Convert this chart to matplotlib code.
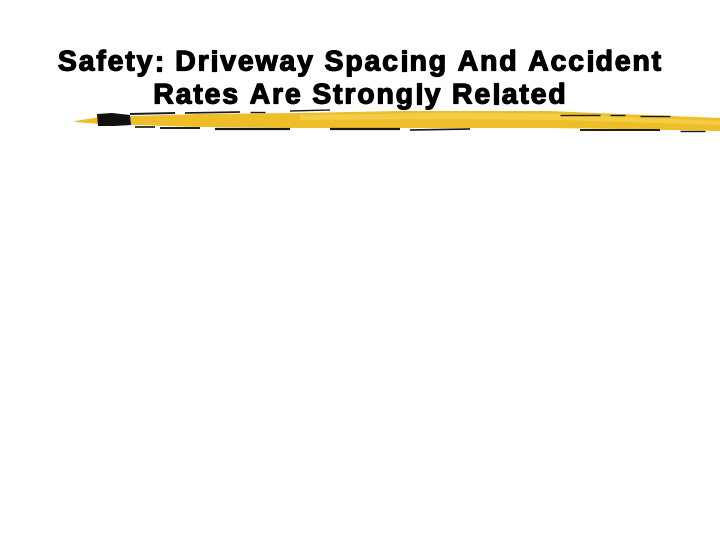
import matplotlib
matplotlib.use("Agg")
import matplotlib.pyplot as plt
import matplotlib.patheffects as pe
from matplotlib.patches import Polygon
from matplotlib.font_manager import FontProperties, findfont
from matplotlib.ft2font import FT2Font

# -------------------------------------------------
# 1. SLIDE TEXT
# -------------------------------------------------
title_lines = [
    "Safety: Driveway Spacing And Accident",
    "Rates Are Strongly Related",
]
title_baseline = [70.5, 103.5]
title_center_x = 359.5
title_size = 20.5      # pt
title_tracking = 1.8   # extra px between letters

# -------------------------------------------------
# 2. BRUSH STROKE (decoration, pixel coords)
# -------------------------------------------------
yellow_top = [(75, 121), (100, 117), (200, 114), (300, 113), (400, 111),
              (550, 111), (620, 114), (720, 118)]
yellow_bottom = [(720, 131), (620, 129), (550, 128), (400, 128),
                 (300, 128), (200, 127), (100, 124), (75, 122)]
light_top = [(300, 115), (450, 113), (560, 114), (720, 121)]
light_bottom = [(720, 125), (560, 120), (450, 119), (300, 120)]

black_block = [(97, 114), (112, 113), (130, 115), (131, 125), (115, 126), (98, 126)]
black_dashes = [
    ((130, 114), (175, 113), 1.4),
    ((185, 113), (240, 112), 1.2),
    ((250, 112), (265, 112), 1.0),
    ((135, 127), (155, 127), 1.2),
    ((160, 128), (200, 128), 1.4),
    ((215, 129), (290, 129), 1.6),
    ((330, 129), (400, 129), 1.6),
    ((290, 111), (330, 110), 1.0),
    ((410, 130), (470, 129), 1.2),
    ((560, 115), (600, 115), 1.0),
    ((610, 115), (625, 115), 1.0),
    ((640, 116), (670, 116), 1.0),
    ((580, 130), (660, 130), 1.4),
    ((680, 131), (705, 131), 1.0),
]

# -------------------------------------------------
# 3. DRAW
# -------------------------------------------------
dpi = 100
fig = plt.figure(figsize=(7.2, 5.4), dpi=dpi)
ax = fig.add_axes([0, 0, 1, 1])
ax.set_xlim(0, 720)
ax.set_ylim(540, 0)
ax.axis("off")

ax.add_patch(Polygon(yellow_top + yellow_bottom, closed=True,
                     facecolor="#EDBE28", edgecolor="none"))
ax.add_patch(Polygon(light_top + light_bottom, closed=True,
                     facecolor="#F6D24E", edgecolor="none", alpha=0.8))
ax.add_patch(Polygon(black_block, closed=True,
                     facecolor="#111111", edgecolor="none"))
for (x0, y0), (x1, y1), lw in black_dashes:
    ax.plot([x0, x1], [y0, y1], color="#1a1a1a", linewidth=lw,
            solid_capstyle="butt")

# letter-spaced title: place each character by its advance width
fp = FontProperties(family="Liberation Sans", weight="bold", size=title_size)
ft = FT2Font(findfont(fp))
ft.set_size(title_size, dpi)


def advance(ch):
    g = ft.load_char(ord(ch))
    return g.linearHoriAdvance / 65536


heavy = [pe.withStroke(linewidth=0.9, foreground="black")]
for text, base in zip(title_lines, title_baseline):
    widths = [advance(c) for c in text]
    total = sum(widths) + title_tracking * (len(text) - 1)
    x = title_center_x - total / 2
    for c, w in zip(text, widths):
        ax.text(x, base, c, ha="left", va="baseline",
                fontproperties=fp, color="black", path_effects=heavy)
        x += w + title_tracking

plt.savefig("out.png", dpi=dpi)
plt.close()
